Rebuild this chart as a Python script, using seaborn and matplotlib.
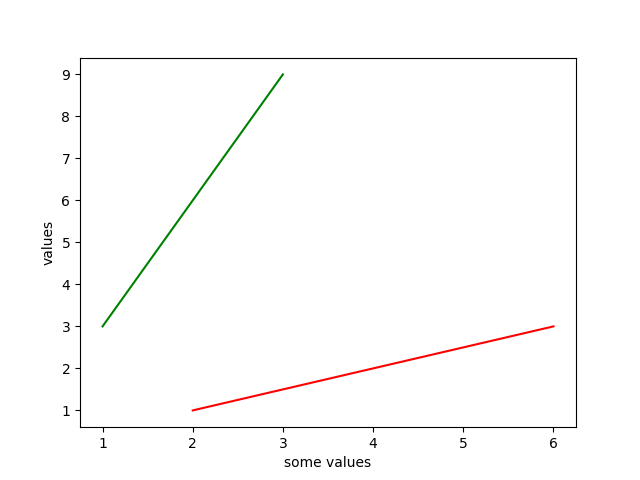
import matplotlib
matplotlib.use("Agg")
import matplotlib.pyplot as plt
import seaborn as sns

# --- data ---
green_x = [1, 2, 3]
green_y = [3, 6, 9]
red_x = [2, 4, 6]
red_y = [1, 2, 3]

fig, ax = plt.subplots(figsize=(6.4, 4.8), dpi=100)
sns.lineplot(x=green_x, y=green_y, color="green", ax=ax)
sns.lineplot(x=red_x, y=red_y, color="red", ax=ax)
ax.set_xlabel("some values")
ax.set_ylabel("values")
fig.savefig("out.png")
